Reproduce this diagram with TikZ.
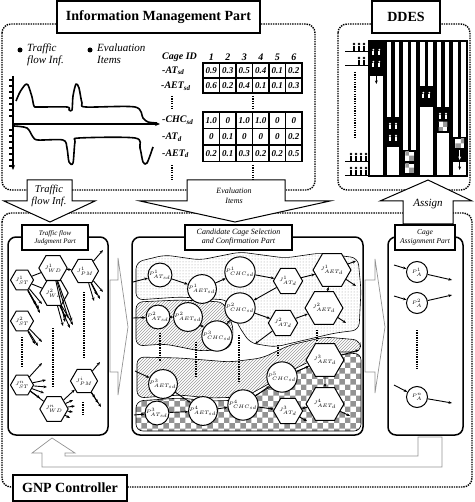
\documentclass[tikz,border=0pt]{standalone}
\usepackage{fontspec}
\setmainfont{Liberation Serif}
\usetikzlibrary{shapes.geometric,patterns,arrows.meta,calc}
\begin{document}
\begin{tikzpicture}[x=1pt,y=-1pt,
  frame/.style={densely dotted,line width=1.4pt,rounded corners=9pt},
  titlebox/.style={draw,line width=1.5pt,fill=white,font=\fontsize{14}{16}\selectfont\bfseries,inner sep=0pt},
  partbox/.style={draw,line width=1.5pt,rounded corners=8pt},
  partlabel/.style={draw,line width=1.4pt,fill=white,align=center,inner sep=0pt,font=\fontsize{7}{8}\selectfont\itshape},
  bigarrow/.style={draw,line width=1pt,fill=white,line join=miter},
  grayarrow/.style={draw=gray!85,line width=0.7pt},
  hexa/.style={regular polygon,regular polygon sides=6,draw,line width=1pt,fill=white,minimum size=23pt,inner sep=0pt,font=\fontsize{5.5}{6}\selectfont},
  circ/.style={circle,draw,line width=1pt,fill=white,minimum size=21pt,inner sep=0pt,font=\fontsize{5.5}{6}\selectfont},
  arr/.style={-{Stealth[length=3.5pt,width=2.8pt]},line width=0.9pt},
  link/.style={line width=0.9pt},
  vdots/.style={line width=2.2pt,dash pattern=on 1.3pt off 1.1pt},
  cell/.style={draw,line width=1.3pt,minimum width=16.5pt,inner sep=0pt,font=\fontsize{9}{10}\selectfont\bfseries\itshape},
  rowlab/.style={anchor=west,inner sep=0pt,font=\fontsize{10}{11}\selectfont\bfseries\itshape},
  curve/.style={line width=1.6pt,line join=round},
  region/.style={draw,line width=0.6pt,rounded corners=7pt},
  bulletdot/.style={circle,fill,inner sep=0pt,minimum size=5pt},
  person/.pic={\fill (0,-7) circle (1.4pt); \fill (-1.4,-5.3) rectangle (1.4,0);},
]
\useasboundingbox (0,0) rectangle (474,502);

% ---------- frames ----------
\draw[frame] (2,24) rectangle (315,190);
\draw[frame] (338,24) rectangle (470,190);
\draw[frame] (2,213) rectangle (472,487);

% ---------- big arrows ----------
\path[bigarrow] (27,180) -- (72,180) -- (72,201) -- (95,201) -- (50,222) -- (4,201) -- (27,201) -- cycle;
\node[align=center,font=\fontsize{10.5}{12}\selectfont\itshape,inner sep=0pt] (tfa) at (49,196) {Traffic\\flow Inf.};
\path[bigarrow] (187,180) -- (285,180) -- (285,201) -- (330,201) -- (235,222) -- (140,201) -- (187,201) -- cycle;
\node[align=center,font=\fontsize{8}{9.5}\selectfont\itshape,inner sep=0pt] (eva) at (234,196) {Evaluation\\Items};
\path[bigarrow] (403,224) -- (403,201) -- (380,201) -- (428,180) -- (472,201) -- (453,201) -- (453,224) -- cycle;
\node[font=\fontsize{11}{12}\selectfont\itshape,inner sep=0pt] (asg) at (428,204) {Assign};

% ---------- title boxes ----------
\node[titlebox,minimum width=203pt,minimum height=32pt] (imp) at (158.5,17) {Information Management Part};
\node[titlebox,minimum width=68pt,minimum height=32pt] (ddes) at (406,17) {DDES};
\node[titlebox,minimum width=114pt,minimum height=26pt] (gnp) at (70,488) {GNP Controller};

% ---------- information part: legend ----------
\node[bulletdot] (b1l) at (20,50) {};
\node[font=\fontsize{11}{12}\selectfont\itshape,anchor=north west,align=left,inner sep=0pt] (tfl1) at (27,44) {Traffic\\flow Inf.};
\node[bulletdot] (b2l) at (90,50) {};
\node[font=\fontsize{11}{12}\selectfont\itshape,anchor=north west,align=left,inner sep=0pt] (evl1) at (97,44) {Evaluation\\Items};

% ---------- graph ----------
\draw[line width=1.5pt,-{Stealth[length=5pt,width=4pt]}] (13,76) -- (13,170);
\draw[line width=1.5pt,-{Stealth[length=5pt,width=4pt]}] (13,124) -- (160,124);
\foreach \t in {80,86,...,118} \draw[line width=1.2pt] (9,\t) -- (13,\t);
\foreach \t in {130,136,...,166} \draw[line width=1.2pt] (9,\t) -- (13,\t);
\draw[curve] plot[smooth,tension=0.5] coordinates {(16,101) (20,92) (25,85) (28,85) (32,97) (34,106) (38,107) (67,107) (69,110) (72,110) (73,96) (76,84) (79,88) (82,103) (86,107) (135,107) (143,118) (148,122) (157,123)};
\draw[curve] plot[smooth,tension=0.5] coordinates {(14,126) (27,128) (33,137) (38,140) (63,140) (67,148) (69,162) (73,163) (75,142) (79,138) (135,138) (140,148) (143,162) (147,163) (153,147)};

% ---------- table ----------
\node[font=\fontsize{10}{11}\selectfont\bfseries\itshape,anchor=west,inner sep=0pt] (cid) at (162,57) {Cage ID};
\foreach \c in {1,...,6} \node[font=\fontsize{10}{11}\selectfont\bfseries\itshape,inner sep=0pt] (hd\c) at ({194.75+16.5*\c},57) {\c};
\node[rowlab] (r1) at (162,70.5) {-AT\textsubscript{sd}};
\node[rowlab] (r2) at (161,86) {-AET\textsubscript{sd}};
\node[rowlab] (r3) at (162,120) {-CHC\textsubscript{sd}};
\node[rowlab] (r4) at (162,137) {-AT\textsubscript{d}};
\node[rowlab] (r5) at (162,153.5) {-AET\textsubscript{d}};
\foreach \v [count=\c] in {0.9,0.3,0.5,0.4,0.1,0.2} \node[cell,minimum height=15pt] (ta\c) at ({194.75+16.5*\c},70.5) {\v};
\foreach \v [count=\c] in {0.6,0.2,0.4,0.1,0.1,0.3} \node[cell,minimum height=15pt] (tb\c) at ({194.75+16.5*\c},85.5) {\v};
\foreach \v [count=\c] in {1.0,0,1.0,1.0,0,0} \node[cell,minimum height=16.5pt] (tc\c) at ({194.75+16.5*\c},120.25) {\v};
\foreach \v [count=\c] in {0,0.1,0,0,0,0.2} \node[cell,minimum height=16.5pt] (td\c) at ({194.75+16.5*\c},136.75) {\v};
\foreach \v [count=\c] in {0.2,0.1,0.3,0.2,0.2,0.5} \node[cell,minimum height=16.5pt] (te\c) at ({194.75+16.5*\c},153.25) {\v};
\draw[vdots] (172,96) -- (172,110);
\draw[vdots] (253,96) -- (253,110);
\draw[vdots] (172,165) -- (172,180);
\draw[vdots] (253,165) -- (253,180);

% ---------- DDES ----------
\fill (368,40) rectangle (468,177);
\foreach \i in {0,...,5} \fill[white] ({370+\i*16.667},42) rectangle ({382.67+\i*16.667},175);
\foreach \i/\t in {0/42,1/117,2/150,3/86,4/107,5/137}
  \draw[line width=3.2pt] ({376.33+\i*16.667},42) -- ({376.33+\i*16.667},\t);
\foreach \i/\t/\b in {0/42/76,1/117/147,2/150/175,3/86/107,4/107/133,5/137/162}
  \fill ({370+\i*16.667},\t) rectangle ({382.67+\i*16.667},\b);
\foreach \i/\t in {0/46,0/58,1/120,1/132,3/89,4/110}
  {\pic[white,scale=0.75] at ({373.3+\i*16.667},{\t+9}) {person};
   \pic[white,scale=0.75] at ({379.3+\i*16.667},{\t+9}) {person};}
\foreach \i/\t in {2/152,2/164,4/122,5/139}
  {\fill[white] ({372+\i*16.667},\t) rectangle ({380.67+\i*16.667},{\t+9});
   \fill[pattern=checkerboard,pattern color=gray!80] ({372+\i*16.667},\t) rectangle ({380.67+\i*16.667},{\t+9});}
\draw[arr,line width=1.2pt] (376.33,75) -- (376.33,84);
\draw[arr,line width=1.2pt] (426.33,88) -- (426.33,78);
\draw[arr,line width=1.2pt,white] (459.67,150) -- (459.67,160);
\draw[arr,line width=1.2pt] (459.67,161) -- (459.67,170);
\draw[line width=1pt] (345,52) -- (368,52);
\draw[line width=1pt] (345,66) -- (368,66);
\draw[line width=1pt] (345,162) -- (368,162);
\draw[line width=1pt] (345,176) -- (368,176);
\foreach \x in {354,359,364} \pic at (\x,51) {person};
\foreach \x in {359,364} \pic at (\x,65) {person};
\foreach \x in {351,356,361,366} {\pic at (\x,161) {person}; \pic at (\x,175) {person};}
\draw[vdots] (355,72) -- (355,138);

% ---------- GNP: judgment part ----------
\draw[partbox] (8,237) rectangle (108,435);
\node[hexa] (jst1) at (22,280) {$J^1_{ST}$};
\node[hexa] (jwd1) at (53,268) {$J^1_{WD}$};
\node[hexa] (jpm1) at (85,271) {$J^1_{PM}$};
\node[hexa] (jwd2) at (54,293) {$J^2_{WD}$};
\node[hexa] (jst2) at (22,321) {$J^2_{ST}$};
\node[hexa] (jstn) at (22,385) {$J^n_{ST}$};
\node[hexa] (jwdn) at (54,409) {$J^n_{WD}$};
\node[hexa] (jpmi) at (84,381) {$J^i_{PM}$};
\draw[link] (jst1) -- (jwd1);
\draw[link] (jst1) -- (jwd2);
\draw[arr] (jwd1) -- (jpm1);
\draw[link] (jstn) -- (jwdn);
\draw[arr] (jwdn) -- (jpmi);
\draw[arr] (jpm1) -- (103,250);
\draw[arr] (jpmi) -- (100,362);
\draw[arr] (jstn) -- (42,363);
\foreach \p in {(36,305),(39,309),(42,304),(40,313)} \draw[arr] (jst1) -- \p;
\foreach \p in {(68,318),(72,321),(65,322)} \draw[arr] (jwd1) -- \p;
\foreach \p in {(66,318),(70,328),(73,325),(63,326)} \draw[arr] (jwd2) -- \p;
\foreach \p in {(97,295),(100,299),(94,301),(103,292)} \draw[arr] (jpm1) -- \p;
\foreach \p in {(38,346),(42,342),(35,344)} \draw[arr] (jst2) -- \p;
\foreach \p in {(46,380),(47,387),(44,393),(40,398)} \draw[arr] (jstn) -- \p;
\foreach \p in {(73,400),(75,406),(73,412),(70,418)} \draw[arr] (jwdn) -- \p;
\foreach \p in {(95,398),(98,403),(101,407)} \draw[arr] (jpmi) -- \p;
\draw[vdots] (22,337) -- (22,366);
\draw[vdots] (53,328) -- (53,386);
\draw[vdots] (84,292) -- (84,358);
\draw[vdots] (83,402) -- (83,415);
\node[partlabel,minimum width=66pt,minimum height=25pt] (tfj) at (55,237.5) {Traffic flow\\Judgment Part};

% ---------- GNP: candidate part ----------
\draw[partbox] (132,237) rectangle (363,435);
\path[region,pattern=dots,pattern color=gray!80] (136,262) -- (165,255) -- (200,260) -- (240,252) -- (285,258) -- (320,253) -- (358,258) -- (361,290) -- (359,330) -- (335,333) -- (305,340) -- (275,347) -- (250,343) -- (238,325) -- (228,300) -- (180,297) -- (136,300) -- cycle;
\path[region,pattern=north east lines,pattern color=gray!80] (136,302) -- (180,300) -- (224,302) -- (234,330) -- (230,349) -- (200,351) -- (165,344) -- (136,346) -- cycle;
\path[region,pattern=north east lines,pattern color=gray!80] (137,357) -- (180,358) -- (230,362) -- (262,358) -- (290,345) -- (325,337) -- (360,340) -- (361,352) -- (330,352) -- (300,366) -- (272,382) -- (245,397) -- (210,398) -- (180,395) -- (137,398) -- cycle;
\path[region,pattern=checkerboard,pattern color=gray!85] (136,401) -- (180,398) -- (210,401) -- (247,400) -- (274,385) -- (302,369) -- (332,355) -- (361,353) -- (361,431) -- (136,431) -- cycle;
\node[circ] (a1) at (160,275) {$P^1_{AT_{sd}}$};
\node[circ] (a2) at (202,289) {$P^1_{AET_{sd}}$};
\node[circ] (a3) at (240,272) {$P^1_{CHC_{sd}}$};
\node[hexa] (a4) at (288,281) {$J^1_{AT_d}$};
\node[hexa] (a5) at (332,270) {$J^1_{AET_d}$};
\node[circ] (a6) at (240,308) {$P^2_{CHC_{sd}}$};
\node[hexa] (a7) at (283,323) {$J^2_{AT_d}$};
\node[hexa] (a8) at (324,308) {$J^2_{AET_d}$};
\node[circ] (b1) at (158,317) {$P^2_{AT_{sd}}$};
\node[circ] (b2) at (188,317) {$P^2_{AET_{sd}}$};
\node[circ] (b3) at (217,336) {$P^3_{CHC_{sd}}$};
\node[circ] (c1) at (163,384) {$P^3_{AET_{sd}}$};
\node[circ] (c2) at (157,413) {$P^3_{AT_{sd}}$};
\node[circ] (c3) at (203,411) {$P^4_{AET_{sd}}$};
\node[circ] (c4) at (243,405) {$P^4_{CHC_{sd}}$};
\node[circ] (c5) at (282,377) {$P^5_{CHC_{sd}}$};
\node[hexa] (c6) at (325,360) {$J^3_{AET_d}$};
\node[hexa] (c7) at (325,404) {$J^4_{AET_d}$};
\node[hexa] (c8) at (288,411) {$J^3_{AT_d}$};
\draw[arr] (133,282) -- (a1);
\draw[arr] (a1) -- (a2);
\draw[arr] (a2) -- (a3);
\draw[arr] (a3) -- (a4);
\draw[arr] (a4) -- (a5);
\draw[arr] (a5) -- (356,261);
\draw[arr] (a5) -- (356,286);
\draw[arr] (a8) -- (a5);
\draw[arr] (a4) -- (a6);
\draw[arr] (a6) -- (a7);
\draw[arr] (a7) -- (a8);
\draw[arr] (a8) -- (346,323);
\draw[arr] (a7) -- (255,344);
\draw[arr] (133,318) -- (b1);
\draw[arr] (b1) -- (b2);
\draw[arr] (b2) -- (b3);
\draw[arr] (b3) -- (a6);
\draw[arr] (135,371) -- (c1);
\draw[arr] (134,415) -- (c2);
\draw[arr] (c1) -- (c3);
\draw[arr] (c2) -- (c3);
\draw[arr] (c3) -- (c4);
\draw[arr] (c4) -- (c5);
\draw[arr] (c5) -- (c6);
\draw[arr] (c6) -- (359,350);
\draw[arr] (c6) -- (c7);
\draw[arr] (c7) -- (c8);
\draw[arr] (c7) -- (350,416);
\draw[arr] (c4) -- (c8);
\draw[arr] (c8) -- (307,421);
\draw[vdots] (160,333) -- (160,361);
\draw[vdots] (196,342) -- (196,376);
\draw[vdots] (239,335) -- (239,383);
\draw[vdots] (278,345) -- (278,356);
\draw[vdots] (317,330) -- (317,341);
\node[partlabel,minimum width=107pt,minimum height=25pt,font=\fontsize{8}{9}\selectfont\itshape] (ccs) at (238.5,237.5) {Candidate Cage Selection\\and Confirmation Part};

% ---------- GNP: assignment part ----------
\draw[partbox] (388,237) rectangle (463,435);
\node[circ] (pa1) at (417,272) {$P^1_A$};
\node[circ] (pa2) at (417,303) {$P^2_A$};
\node[circ] (pan) at (417,397) {$P^n_A$};
\draw[arr] (394,265) -- (pa1);
\draw[arr] (pa1) -- (452,280);
\draw[arr] (394,296) -- (pa2);
\draw[arr] (pa2) -- (452,295);
\draw[arr] (394,385) -- (pan);
\draw[arr] (pan) -- (452,403);
\draw[vdots] (417,330) -- (417,369);
\node[partlabel,minimum width=60pt,minimum height=25pt,font=\fontsize{7.5}{8.5}\selectfont\itshape] (cap) at (425,237.5) {Cage\\Assignment Part};

% ---------- thin flow arrows ----------
\path[grayarrow] (110,280) -- (118,280) -- (118,258) -- (128,327) -- (118,395) -- (118,372) -- (110,372) -- cycle;
\path[grayarrow] (365,280) -- (375,280) -- (375,259) -- (385,327) -- (375,393) -- (375,372) -- (365,372) -- cycle;
\path[grayarrow] (418,437) -- (418,456) -- (65,456) -- (65,453) -- (75,453) -- (52,438) -- (32,453) -- (42,453) -- (42,467) -- (442,467) -- (442,437) -- cycle;

\end{tikzpicture}
\end{document}
